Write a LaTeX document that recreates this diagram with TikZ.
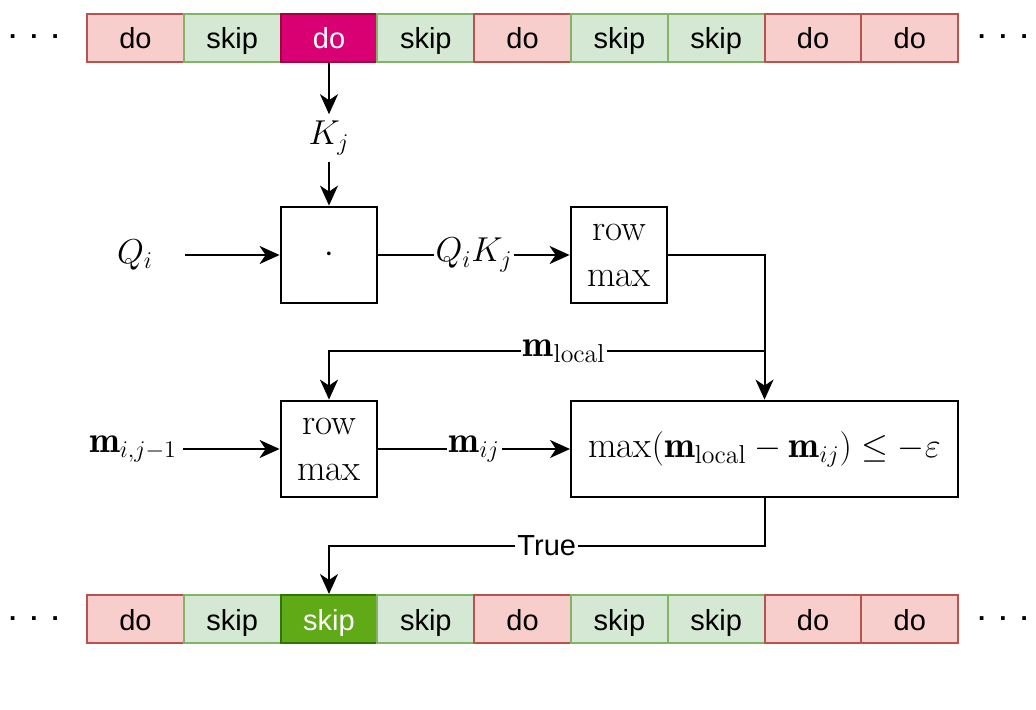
\documentclass[tikz,border=0pt]{standalone}
\usepackage{fontspec}
\newfontfamily\cellfont{Liberation Sans}
\usetikzlibrary{arrows.meta,positioning}

\definecolor{dofill}{HTML}{F8CECC}
\definecolor{doline}{HTML}{B85450}
\definecolor{skipfill}{HTML}{D5E8D4}
\definecolor{skipline}{HTML}{82B366}
\definecolor{docurfill}{HTML}{D80073}
\definecolor{docurline}{HTML}{A50040}
\definecolor{skipcurfill}{HTML}{60A917}
\definecolor{skipcurline}{HTML}{2D7600}

\tikzset{
  cell/.style={draw, line width=1pt, minimum width=48.4pt, minimum height=24pt,
    inner sep=0pt, text height=12pt, text depth=1pt,
    font=\cellfont\fontsize{14.5}{17}\selectfont},
  docell/.style={cell, fill=dofill, draw=doline},
  skipcell/.style={cell, fill=skipfill, draw=skipline},
  docur/.style={cell, fill=docurfill, draw=docurline, text=white},
  skipcur/.style={cell, fill=skipcurfill, draw=skipcurline, text=white},
  opbox/.style={draw, line width=1pt, minimum width=48.4pt, minimum height=48.4pt,
    inner sep=0pt, align=center},
  inlabel/.style={minimum width=50pt, inner sep=0pt},
  lbl/.style={fill=white, inner sep=1pt},
  flow/.style={-{Stealth[length=10pt,width=9pt,inset=3pt]}, line width=1pt},
  ellip/.style={font=\cellfont\bfseries\fontsize{13}{15}\selectfont, anchor=base, inner sep=0pt}
}

\begin{document}
\begin{tikzpicture}[x=0.5pt,y=-0.5pt,font=\fontsize{18.5}{23}\selectfont]
\useasboundingbox (0,0) rectangle (1036,710);
% block rows
\foreach \s/\t [count=\i] in {docell/do,skipcell/skip,docur/do,skipcell/skip,docell/do,skipcell/skip,skipcell/skip,docell/do,docell/do}
  \node[\s] (top\i) at ({87+96.8*(\i-0.5)},38) {\t};
\foreach \s/\t [count=\i] in {docell/do,skipcell/skip,skipcur/skip,skipcell/skip,docell/do,skipcell/skip,skipcell/skip,docell/do,docell/do}
  \node[\s] (bot\i) at ({87+96.8*(\i-0.5)},619) {\t};
\node[ellip] (topl) at (34,39) {.\hspace{7pt}.\hspace{7pt}.};
\node[ellip] (topr) at (1003,39) {.\hspace{7pt}.\hspace{7pt}.};
\node[ellip] (botl) at (34,620) {.\hspace{7pt}.\hspace{7pt}.};
\node[ellip] (botr) at (1003,620) {.\hspace{7pt}.\hspace{7pt}.};

\node (kj) at (329,138) {$K_j$};
\node[inlabel] (qi) at (135,255) {$Q_i$};
\node[opbox] (dot) at (329,255) {$\cdot$};
\node[opbox] (rm1) at (619,255) {row\\max};
\node[inlabel] (mprev) at (133,449) {$\mathbf{m}_{i,j-1}$};
\node[opbox] (rm2) at (329,449) {row\\max};
\node[opbox, minimum width=193.5pt] (test) at (764.5,449)
  {$\max(\mathbf{m}_{\mathrm{local}} - \mathbf{m}_{ij}) \leq -\varepsilon$};
\coordinate (split) at (764.5,351);
\coordinate (turn) at (329,546);

\draw[flow] (top3) -- (kj);
\draw[flow] (kj) -- (dot);
\draw[flow] (qi) -- (dot);
\draw[flow] (dot) -- node[lbl] {$Q_iK_j$} (rm1);
\draw[flow] (rm1) -| (test);
\draw[flow] (split) -| node[lbl,pos=0.23] {$\mathbf{m}_{\mathrm{local}}$} (rm2);
\draw[flow] (mprev) -- (rm2);
\draw[flow] (rm2) -- node[lbl] {$\mathbf{m}_{ij}$} (test);
\draw[flow] (test) |- node[lbl,pos=0.75,font=\cellfont\fontsize{14.5}{17}\selectfont] {True} (turn) -- (bot3);
\end{tikzpicture}
\end{document}
